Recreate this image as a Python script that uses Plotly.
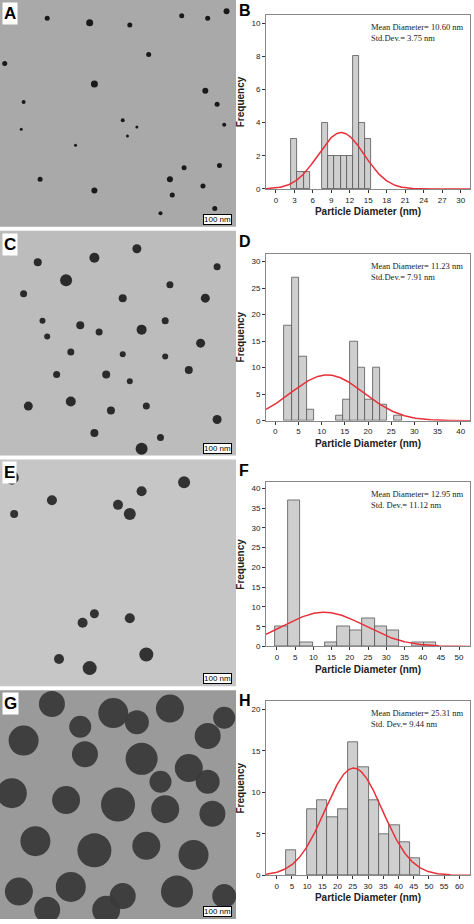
import numpy as np
import plotly.graph_objects as go

# ---------------- histogram data ----------------
b_centers = [3, 4, 5, 8, 9, 10, 11, 12, 13, 14, 15]
b_counts = [3, 1, 1, 4, 2, 2, 2, 2, 8, 4, 3]
b_width = 1.0
b_mean, b_sd = 10.60, 3.75

d_centers = [2.75, 4.35, 5.95, 7.55, 13.9, 15.5, 17.0, 18.6, 20.2, 21.8, 23.4, 26.5]
d_counts = [18, 27, 12, 2, 1, 4, 15, 10, 4, 10, 3, 1]
d_width = 1.6
d_mean, d_sd = 11.23, 7.91

f_centers = [1.3, 4.7, 8.1, 14.9, 18.3, 21.7, 25.1, 28.5, 31.9, 38.7, 42.1]
f_counts = [5, 37, 1, 1, 5, 4, 7, 5, 4, 1, 1]
f_width = 3.4
f_mean, f_sd = 12.95, 11.12

h_centers = [4.8, 11.5, 14.9, 18.3, 21.7, 25.1, 28.5, 31.9, 35.3, 38.7, 42.1, 45.5]
h_counts = [3, 8, 9, 7, 8, 16, 13, 9, 5, 6, 4, 2]
h_width = 3.4
h_mean, h_sd = 25.31, 9.44

stat_texts = ["Mean Diameter= 10.60 nm<br>Std.Dev.= 3.75 nm",
              "Mean Diameter= 11.23 nm<br>Std.Dev.= 7.91 nm",
              "Mean Diameter= 12.95 nm<br>Std. Dev.= 11.12 nm",
              "Mean Diameter= 25.31 nm<br>Std. Dev.= 9.44 nm"]

# ---------------- TEM particle positions (x, y in 0-100, size px) ----------------
a_px = [20, 38, 55, 77, 88, 96, 2, 40, 63, 87, 10, 52, 92, 95, 9, 54, 32, 58, 17, 40, 78, 72, 73, 86, 91, 68, 93]
a_py = [92, 90, 89, 93, 92, 95, 72, 63, 76, 60, 55, 47, 54, 45, 43, 40, 36, 44, 21, 16, 26, 21, 14, 18, 8, 6, 27]
a_ps = [5, 7, 5, 5, 5, 6, 5, 7, 5, 6, 4, 4, 5, 4, 3, 3, 3, 3, 5, 6, 5, 6, 5, 5, 5, 4, 5]

c_px = [16, 40, 58, 92, 10, 28, 52, 72, 87, 18, 34, 42, 60, 70, 30, 52, 70, 85, 24, 45, 55, 80, 12, 30, 47, 62, 92, 40, 68, 60, 20]
c_py = [86, 88, 92, 84, 72, 78, 70, 76, 70, 60, 58, 55, 56, 60, 46, 45, 44, 50, 36, 36, 33, 38, 22, 24, 20, 22, 16, 10, 8, 3, 53]
c_ps = [8, 10, 9, 7, 7, 12, 8, 7, 9, 6, 8, 7, 10, 7, 7, 6, 6, 9, 7, 8, 6, 8, 9, 10, 8, 7, 9, 8, 7, 12, 6]

e_px = [5, 22, 60, 78, 6, 50, 55, 35, 55, 40, 38, 62, 25, 92]
e_py = [92, 82, 86, 90, 76, 80, 76, 28, 30, 32, 8, 14, 12, 4]
e_ps = [14, 10, 10, 12, 8, 10, 12, 10, 10, 9, 14, 14, 10, 8]

g_px = [22, 48, 72, 88, 10, 36, 60, 80, 95, 5, 28, 50, 70, 90, 15, 40, 62, 82, 8, 30, 52, 75, 95, 20, 45, 68, 88, 34, 58]
g_py = [94, 90, 92, 80, 78, 72, 70, 66, 88, 55, 52, 50, 48, 46, 34, 30, 32, 28, 12, 14, 10, 12, 10, 4, 4, 60, 60, 84, 86]
g_ps = [26, 30, 28, 26, 30, 26, 32, 28, 22, 30, 28, 34, 28, 26, 30, 34, 28, 30, 28, 30, 26, 32, 24, 26, 28, 22, 24, 22, 24]

img_bg = ["#a9a9a9", "#bcbcbc", "#c6c6c6", "#9a9a9a"]
part_col = ["#111111", "#222222", "#2a2a2a", "#3a3a3a"]

H, W = 924, 474
img_rows = [(0, 228), (232, 458), (462, 690), (694, 924)]
plot_rows = [(15, 190), (255, 423), (485, 650), (705, 880)]
plot_x = (266, 470)

def py(v):
    return 1 - v / H

fig = go.Figure()
layout = {}

imgs = [(a_px, a_py, a_ps), (c_px, c_py, c_ps), (e_px, e_py, e_ps), (g_px, g_py, g_ps)]
letters_l = ["A", "C", "E", "G"]
letters_r = ["B", "D", "F", "H"]
hists = [(b_centers, b_counts, b_width, b_mean, b_sd),
         (d_centers, d_counts, d_width, d_mean, d_sd),
         (f_centers, f_counts, f_width, f_mean, f_sd),
         (h_centers, h_counts, h_width, h_mean, h_sd)]
xranges = [(-1.6, 31.5), (-2, 42), (-3, 53), (-3.5, 63.5)]
xdt = [3, 5, 5, 5]
yranges = [(0, 10.5), (0, 31.5), (0, 41.5), (0, 21)]
ydt = [2, 5, 5, 5]

annotations = []
shapes = []
for i in range(4):
    ia = 2 * i + 1
    ha = 2 * i + 2
    t, b = img_rows[i]
    xs, ys, ss = imgs[i]
    fig.add_trace(go.Scatter(x=xs, y=ys, mode="markers",
                             marker=dict(size=ss, color=part_col[i], line=dict(width=0), opacity=0.95),
                             xaxis=f"x{ia}", yaxis=f"y{ia}", showlegend=False, hoverinfo="skip"))
    layout[f"xaxis{ia}"] = dict(domain=[0, 236 / W], range=[0, 100], visible=False, fixedrange=True)
    layout[f"yaxis{ia}"] = dict(domain=[py(b), py(t)], range=[0, 100], visible=False, fixedrange=True)
    shapes.append(dict(type="rect", xref="paper", yref="paper", x0=0, x1=236 / W, y0=py(b), y1=py(t),
                       fillcolor=img_bg[i], line=dict(width=0), layer="below"))
    annotations.append(dict(text=f"<b>{letters_l[i]}</b>", xref="paper", yref="paper", x=2 / W, y=py(t + 2),
                            xanchor="left", yanchor="top", showarrow=False, bgcolor="white",
                            font=dict(size=17, color="black", family="Liberation Sans"),
                            borderpad=1))
    annotations.append(dict(text="100 nm", xref="paper", yref="paper", x=232 / W, y=py(b - 2),
                            xanchor="right", yanchor="bottom", showarrow=False, bgcolor="white",
                            bordercolor="black", borderwidth=1, borderpad=0,
                            font=dict(size=8, color="black", family="Liberation Sans")))
    cx, cnt, w, m, s = hists[i]
    fig.add_trace(go.Bar(x=cx, y=cnt, width=w, marker=dict(color="#cfcfcf", line=dict(color="#555555", width=0.8)),
                         xaxis=f"x{ha}", yaxis=f"y{ha}", showlegend=False))
    N = sum(cnt)
    xx = np.linspace(xranges[i][0], xranges[i][1], 300)
    yy = N * w / (s * np.sqrt(2 * np.pi)) * np.exp(-0.5 * ((xx - m) / s) ** 2)
    fig.add_trace(go.Scatter(x=xx, y=yy, mode="lines", line=dict(color="#e8303a", width=1.5),
                             xaxis=f"x{ha}", yaxis=f"y{ha}", showlegend=False))
    t2, b2 = plot_rows[i]
    layout[f"xaxis{ha}"] = dict(domain=[plot_x[0] / W, plot_x[1] / W], range=list(xranges[i]), dtick=xdt[i],
                                tick0=0, showgrid=False, zeroline=False, showline=True, linecolor="#888888",
                                mirror=True, ticks="outside", ticklen=3, tickcolor="#333",
                                tickfont=dict(size=8, color="#222"), anchor=f"y{ha}",
                                title=dict(text="<b>Particle Diameter (nm)</b>", font=dict(size=10, color="#222"),
                                           standoff=4))
    layout[f"yaxis{ha}"] = dict(domain=[py(b2), py(t2)], range=list(yranges[i]), dtick=ydt[i],
                                showgrid=False, zeroline=False, showline=True, linecolor="#888888",
                                mirror=True, ticks="outside", ticklen=3, tickcolor="#333",
                                tickfont=dict(size=8, color="#222"), anchor=f"x{ha}",
                                title=dict(text="<b>Frequency</b>", font=dict(size=10, color="#222"), standoff=4))
    annotations.append(dict(text=f"<b>{letters_r[i]}</b>", xref="paper", yref="paper", x=237 / W,
                            y=py(t),
                            xanchor="left", yanchor="top", showarrow=False,
                            font=dict(size=16, color="black", family="Liberation Sans")))
    annotations.append(dict(text=stat_texts[i], xref="paper", yref="paper", x=369 / W, y=py(t2 + 5),
                            xanchor="left", yanchor="top", showarrow=False, align="left",
                            font=dict(size=8.5, color="#222", family="Liberation Serif")))

fig.update_layout(width=W, height=H, margin=dict(l=0, r=0, t=0, b=0), plot_bgcolor="white",
                  paper_bgcolor="white", bargap=0, annotations=annotations, shapes=shapes,
                  font=dict(family="Liberation Sans"), **layout)
fig.write_html("out.html", config={"displayModeBar": False},
               post_script="document.body.style.margin='0';document.body.style.overflow='hidden';")
